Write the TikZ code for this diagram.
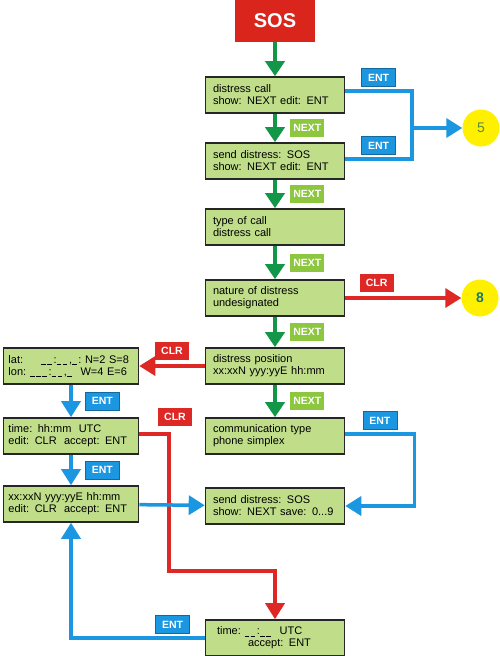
\documentclass[tikz,border=0pt]{standalone}
\usepackage{fontspec}
\setmainfont{Liberation Sans}
\usetikzlibrary{positioning, arrows.meta}

\definecolor{lcdgreen}{RGB}{192,222,138}
\definecolor{nextgreen}{RGB}{18,150,72}
\definecolor{keygreen}{RGB}{141,198,63}
\definecolor{entblue}{RGB}{27,150,224}
\definecolor{clrred}{RGB}{222,40,38}
\definecolor{sosred}{RGB}{218,37,29}
\definecolor{dotyellow}{RGB}{255,240,0}
\definecolor{fivetext}{RGB}{90,140,60}
\definecolor{eighttext}{RGB}{20,120,120}

% one digit slot on the display
\newcommand{\slot}{\rule[-1.5pt]{4.6pt}{0.7pt}\kern1.6pt}

\tikzset{
  lcd/.style={draw=black!85, line width=1.6pt, fill=lcdgreen, minimum width=139pt,
    minimum height=36pt, text width=124pt, align=left, inner xsep=7pt, inner ysep=2pt,
    font=\fontsize{11}{12}\selectfont},
  lcdleft/.style={lcd, minimum width=135pt, text width=125pt, inner xsep=5pt},
  keycap/.style={minimum width=34pt, minimum height=18pt, inner sep=0pt, text=white,
    font=\fontsize{10.5}{10.5}\selectfont\bfseries},
  nextkey/.style={keycap, fill=keygreen},
  entkey/.style={keycap, fill=entblue, draw=entblue!70!black, line width=0.6pt},
  clrkey/.style={keycap, fill=clrred},
  alarm/.style={fill=sosred, text=white, minimum width=80pt, minimum height=42pt,
    font=\fontsize{20}{20}\selectfont\bfseries},
  bubble/.style={circle, fill=dotyellow, minimum size=37pt, inner sep=0pt},
  headtip/.style={-{Triangle[width=19pt,length=16pt]}},
  nextline/.style={nextgreen, line width=4.5pt, -{Triangle[width=19pt,length=15pt]}},
  entline/.style={entblue, line width=3.5pt},
  clrline/.style={clrred, line width=3.5pt}
}

\begin{document}
\begin{tikzpicture}[x=1pt,y=1pt,node distance=70pt,on grid]
    \useasboundingbox (0,0) rectangle (500,-656);

    % main column
    \node[alarm] (sos) at (275,-21) {SOS};
    \node[lcd] (call) [below=74pt of sos] {distress call\\show: NEXT edit: ENT};
    \node[lcd] (send) [below=66pt of call] {send distress: SOS\\show: NEXT edit: ENT};
    \node[lcd] (type) [below=66pt of send] {type of call\\distress call};
    \node[lcd] (nature) [below=71pt of type] {nature of distress\\undesignated};
    \node[lcd] (pos) [below=68pt of nature] {distress position\\xx:xxN yyy:yyE hh:mm};
    \node[lcd] (comm) [below=of pos] {communication type\\phone simplex};
    \node[lcd] (sendsos) [below=of comm] {send distress: SOS\\show: NEXT save: 0...9};
    \node[lcd] (utc) [below=132pt of sendsos]
      {\hspace*{4pt}time:~\slot\slot:\slot\slot~~UTC\\\hspace*{35pt}accept: ENT};

    % left column
    \node[lcdleft] (lat) [left=204pt of pos]
      {lat:\hspace*{18pt}\slot\slot:\slot\slot,\slot:~N=2~S=8\\lon:~\slot\slot\slot:\slot\slot,\slot~~W=4~E=6};
    \node[lcdleft] (time) [below=of lat] {time: hh:mm\ \ UTC\\edit: CLR\ \ accept: ENT};
    \node[lcdleft] (manual) [below=68pt of time] {xx:xxN yyy:yyE hh:mm\\edit: CLR\ \ accept: ENT};

    % exits
    \node[bubble, text=fivetext, font=\fontsize{14}{14}\selectfont] (five) at (481,-128) {5};
    \node[bubble, text=eighttext, font=\fontsize{14}{14}\selectfont\bfseries] (eight)
      [right=205pt of nature] {8};

    \coordinate (fork) at (412,-128);
    \coordinate (detour) at (169,-571);

    \draw[nextline] (sos) -- (call);
    \draw[nextline] (call) -- node[nextkey, right=13pt] {NEXT} (send);
    \draw[nextline] (send) -- node[nextkey, right=13pt] {NEXT} (type);
    \draw[nextline] (type) -- node[nextkey, right=13pt] {NEXT} (nature);
    \draw[nextline] (nature) -- node[nextkey, right=13pt] {NEXT} (pos);
    \draw[nextline] (pos) -- node[nextkey, right=13pt] {NEXT} (comm);

    \draw[entline] ([yshift=4pt]call.east) -| node[entkey, pos=0.25, above=4pt] {ENT} (fork)
      |- node[entkey, pos=0.75, above=4pt] {ENT} ([yshift=2pt]send.east);
    \draw[entline, headtip] (fork) -- (five);
    \draw[clrline, headtip] (nature) -- node[clrkey, pos=0.27, above=4pt] {CLR} (eight);
    \draw[clrline, headtip] (pos) -- node[clrkey, above=4pt] {CLR} (lat);
    \draw[entline, headtip] (lat) -- node[entkey, right=14pt] {ENT} (time);
    \draw[entline, headtip] (time) -- node[entkey, right=14pt] {ENT} (manual);
    \draw[clrline, headtip] ([yshift=2pt]time.east) -| node[clrkey, pos=0.5, above=6pt, xshift=6pt] {CLR}
      (detour) -| (utc.north);
    \draw[entline, headtip] (manual) -- (sendsos);
    \draw[entline, headtip] ([yshift=2pt]comm.east) -- node[entkey, midway, above=4pt] {ENT}
      ++(69,0) |- (sendsos.east);
    \draw[entline, headtip] (utc.west) -| node[entkey, pos=0.12, above=4pt] {ENT} (manual.south);
\end{tikzpicture}
\end{document}
